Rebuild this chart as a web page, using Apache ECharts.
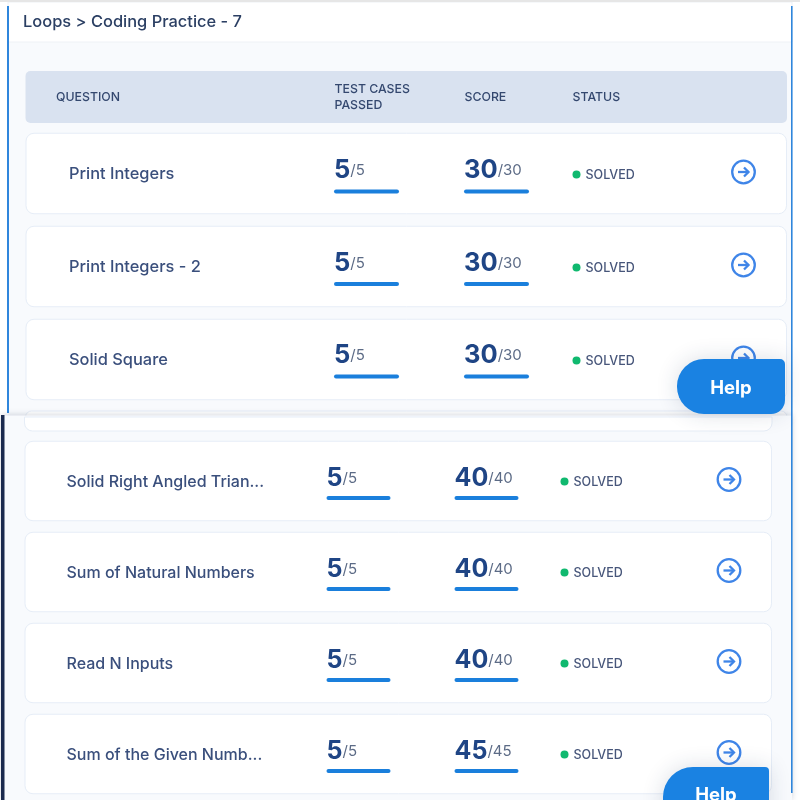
<!DOCTYPE html>
<html>
<head>
<meta charset="utf-8">
<script src="https://cdn.jsdelivr.net/npm/echarts@6/dist/echarts.min.js"></script>
<style>html,body{margin:0;padding:0;background:#fff}</style>
</head>
<body>
<div id="main" style="width:800px;height:800px;"></div>
<script type="text/javascript">
// upper screenshot
var questionsA = ['Print Integers', 'Print Integers - 2', 'Solid Square'];
var passedA = [5, 5, 5];
var casesA = [5, 5, 5];
var scoreA = [30, 30, 30];
var maxScoreA = [30, 30, 30];
var statusA = ['SOLVED', 'SOLVED', 'SOLVED'];

// lower screenshot
var questionsB = ['Solid Right Angled Trian...', 'Sum of Natural Numbers', 'Read N Inputs', 'Sum of the Given Numb...'];
var passedB = [5, 5, 5, 5];
var casesB = [5, 5, 5, 5];
var scoreB = [40, 40, 40, 45];
var maxScoreB = [40, 40, 40, 45];
var statusB = ['SOLVED', 'SOLVED', 'SOLVED', 'SOLVED'];

var title = 'Loops > Coding Practice - 7';
var headers = ['QUESTION', 'TEST CASES\nPASSED', 'SCORE', 'STATUS'];

var FONT = 'Inter';
var NAVY = '#1f4585';
var BAR = '#1a7fdc';

var myChart = echarts.init(document.getElementById('main'));

var grids = [], xAxes = [], yAxes = [], series = [];

function hiddenAxes(questions, xMax, onBand) {
    var g = grids.length - 1;
    xAxes.push({ type: 'value', gridIndex: g, min: 0, max: xMax, show: false });
    yAxes.push({ type: 'category', gridIndex: g, data: questions, inverse: true, show: false, boundaryGap: onBand });
    return g;
}

// one progress column: bar length is the share reached, label is "value/max"
// the grid runs from the first bar to the last one, so the rows sit on the axis ends
function progress(p, left, vals, maxes) {
    grids.push({ left: left, width: p.barW, top: p.barTop, height: p.barSpan });
    var g = hiddenAxes(p.questions, 1, false);
    series.push({
        type: 'bar', xAxisIndex: g, yAxisIndex: g, z: 4, barWidth: 4, clip: false,
        data: vals.map(function (v, i) { return v / maxes[i]; }),
        itemStyle: { color: BAR, borderRadius: 2 },
        label: {
            show: true, position: 'insideLeft', distance: 0, offset: [0, p.numDy],
            formatter: function (o) {
                return '{a|' + vals[o.dataIndex] + '}{b|/' + maxes[o.dataIndex] + '}';
            },
            rich: {
                a: { fontFamily: FONT, fontSize: p.numSize, fontWeight: 700, color: NAVY },
                b: { fontFamily: FONT, fontSize: 15, color: '#5c6b86' }
            }
        }
    });
}

function panel(p) {
    grids.push({ left: p.left, width: p.width, top: p.top, height: p.height });
    var g = hiddenAxes(p.questions, p.width, true);

    series.push({
        type: 'bar', xAxisIndex: g, yAxisIndex: g, z: 2, barWidth: p.cardH, clip: false,
        data: p.questions.map(function () { return p.width; }),
        itemStyle: { color: '#fff', borderColor: '#e6edf7', borderWidth: 1, borderRadius: 8 },
        label: {
            show: true, position: 'insideLeft', distance: p.textX, offset: [0, 1],
            formatter: function (o) { return o.name; },
            fontFamily: FONT, fontSize: p.textSize, fontWeight: 500, color: '#3a4f7c'
        }
    });

    // status dot and word
    series.push({
        type: 'scatter', xAxisIndex: g, yAxisIndex: g, z: 4, symbol: 'circle', symbolSize: 8, symbolOffset: [0, p.statusDy],
        data: p.status.map(function (s, i) { return { value: [p.statusX, i], name: s }; }),
        itemStyle: { color: '#10b96f', opacity: 1 },
        label: {
            show: true, position: 'right', distance: 5, offset: [0, p.statusDy],
            formatter: function (o) { return o.name; },
            fontFamily: FONT, fontSize: 12.5, fontWeight: 500, color: '#47567a'
        }
    });

    // arrow button
    series.push({
        type: 'custom', xAxisIndex: g, yAxisIndex: g, z: 4, clip: false,
        data: p.questions.map(function (q, i) { return [p.arrowX, i]; }),
        renderItem: function (params, api) {
            var c = api.coord([api.value(0), api.value(1)]);
            var x = c[0], y = c[1] - 1.5;
            var st = { stroke: '#3f85e8', fill: null, lineWidth: 2.3 };
            return {
                type: 'group',
                children: [
                    { type: 'circle', shape: { cx: x, cy: y, r: 11.3 }, style: { stroke: '#3f85e8', fill: '#fff', lineWidth: 2.3 } },
                    { type: 'line', shape: { x1: x - 5.5, y1: y, x2: x + 5, y2: y }, style: st },
                    { type: 'polyline', shape: { points: [[x + 0.5, y - 4.5], [x + 5, y], [x + 0.5, y + 4.5]] }, style: st }
                ]
            };
        }
    });

    progress(p, p.testsX, p.passed, p.cases);
    progress(p, p.scoreX, p.score, p.maxScore);
}

panel({
    left: 25.5, width: 761.5, top: 127, height: 279, cardH: 81.5, textX: 43.5, textSize: 16.4,
    statusX: 551, statusDy: 1, arrowX: 718, testsX: 334, scoreX: 464, barW: 65, barTop: 191.5, barSpan: 185,
    numDy: -21, numSize: 25.5,
    questions: questionsA, passed: passedA, cases: casesA, score: scoreA, maxScore: maxScoreA, status: statusA
});
panel({
    left: 24.5, width: 747.5, top: 435.5, height: 364, cardH: 80.5, textX: 42, textSize: 16,
    statusX: 540, statusDy: 0.5, arrowX: 704.5, testsX: 326.5, scoreX: 454.5, barW: 64, barTop: 498, barSpan: 273,
    numDy: -19.5, numSize: 25,
    questions: questionsB, passed: passedB, cases: casesB, score: scoreB, maxScore: maxScoreB, status: statusB
});

function headerText(text, x, y) {
    return { type: 'text', z: 1, style: { text: text, x: x, y: y, fontFamily: FONT, fontSize: 12.3, fontWeight: 500, lineHeight: 16, fill: '#34486f', verticalAlign: 'middle' } };
}

function helpButton(x, y, w, h, r, tx, ty) {
    return [
        { type: 'rect', z: 20, shape: { x: x, y: y, width: w, height: h, r: r }, style: { fill: '#1a82e2', shadowBlur: 22, shadowColor: 'rgba(30,50,90,0.16)' } },
        { type: 'text', z: 21, style: { text: 'Help', x: tx, y: ty, fontFamily: FONT, fontSize: 18.5, fontWeight: 700, fill: '#fff', align: 'center', verticalAlign: 'middle' } }
    ];
}

var graphics = [
    // upper panel
    { type: 'rect', z: -5, shape: { x: 8, y: 0, width: 784, height: 416 }, style: { fill: '#f8fafd' } },
    { type: 'rect', z: -5, shape: { x: 8, y: 2, width: 784, height: 40 }, style: { fill: '#fff', stroke: '#eef1f6', lineWidth: 1 } },
    { type: 'rect', z: -5, shape: { x: 0, y: 0, width: 800, height: 2 }, style: { fill: '#e6e6e6' } },
    { type: 'rect', z: -4, shape: { x: 25.5, y: 71, width: 761.5, height: 52, r: 5 }, style: { fill: '#d9e2f0' } },
    { type: 'rect', z: -4, shape: { x: 25.5, y: 411, width: 761.5, height: 6, r: [8, 8, 0, 0] }, style: { fill: '#fff', stroke: '#e6edf7', lineWidth: 1 } },
    { type: 'rect', z: -3, shape: { x: 7, y: 6, width: 2, height: 407 }, style: { fill: '#2f86dc' } },
    { type: 'text', z: 1, style: { text: title, x: 23, y: 22, fontFamily: FONT, fontSize: 16.45, fontWeight: 500, fill: '#2b3f63', verticalAlign: 'middle' } },
    headerText(headers[0], 56, 97.5),
    headerText(headers[1], 334.5, 97),
    headerText(headers[2], 464.5, 97.5),
    headerText(headers[3], 572.5, 97.5),
    // lower panel
    { type: 'rect', z: -2, shape: { x: 1, y: 415.5, width: 791, height: 385 }, style: { fill: '#f8fafd', shadowBlur: 6, shadowColor: 'rgba(40,50,80,0.22)', shadowOffsetY: -1 } },
    { type: 'rect', z: -1, shape: { x: 24.5, y: 417, width: 747.5, height: 14, r: [0, 0, 8, 8] }, style: { fill: '#fff', stroke: '#e6edf7', lineWidth: 1 } },
    { type: 'rect', z: 1, shape: { x: 1, y: 415, width: 3.5, height: 385 }, style: { fill: '#1b2a4e' } },
    { type: 'rect', z: 1, shape: { x: 791, y: 6, width: 1.6, height: 787 }, style: { fill: '#2f86dc' } }
].concat(
    helpButton(677, 359, 108, 55, [27, 5, 14, 27], 731, 388),
    helpButton(663, 767, 106, 70, [30, 4, 4, 30], 716, 795)
);

myChart.setOption({
    animation: false,
    backgroundColor: '#fff',
    graphic: { elements: graphics },
    grid: grids,
    xAxis: xAxes,
    yAxis: yAxes,
    series: series
});
</script>
</body>
</html>
